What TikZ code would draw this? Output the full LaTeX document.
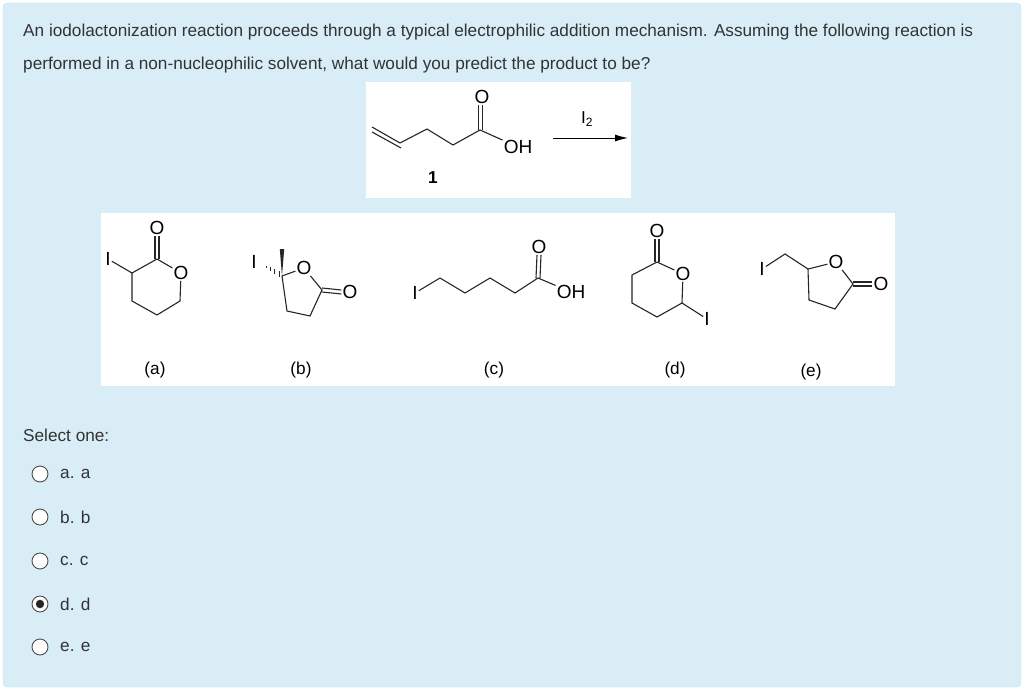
\documentclass[tikz,border=0pt]{standalone}
\usepackage{fontspec}
\setmainfont{Liberation Sans}
\usetikzlibrary{arrows.meta,calc}
\begin{document}
\begin{tikzpicture}[x=1pt,y=-1pt,
  txt/.style={anchor=west,inner sep=0pt,font=\fontsize{17.2}{20}\selectfont,text=black!80},
  atom/.style={inner sep=1pt,font=\fontsize{19}{20}\selectfont},
  bond/.style={line width=1.1pt,black!85},
  lbl/.style={font=\fontsize{17.2}{20}\selectfont},
  radio/.style={circle,draw=black!70,line width=0.9pt,minimum size=16pt,inner sep=0pt,fill=white}]
\useasboundingbox (0,0) rectangle (1024,690);
\fill[white] (0,0) rectangle (1024,690);
\draw[fill={rgb,255:red,217;green,237;blue,247},draw={rgb,255:red,188;green,232;blue,241},rounded corners=4pt] (3,3) rectangle (1021,687);
\node[txt] (q1) at (23,32) {An iodolactonization reaction proceeds through a typical electrophilic addition mechanism. Assuming the following reaction is};
\node[txt] (q2) at (23,65) {performed in a non-nucleophilic solvent, what would you predict the product to be?};
\fill[white] (366,82) rectangle (631,198);
\fill[white] (101,213) rectangle (895,386);
% reaction
\coordinate (r1) at (372,127); \coordinate (r2) at (400,143); \coordinate (r3) at (427,129);
\coordinate (r4) at (453,145); \coordinate (r5) at (480,130);
\node[atom] (rO) at (482,97) {O}; \node[atom] (rOH) at (518,147) {OH};
\draw[bond] (r1)--(r2)--(r3)--(r4)--(r5)--(rOH);
\draw[bond] ([yshift=-5]r1)--([xshift=1,yshift=-5]r2);
\draw[bond] ([xshift=-1.5]r5)--([xshift=-3.5]rO.south);
\draw[bond] ([xshift=2.5]r5)--([xshift=0.5]rO.south);
\coordinate (a1) at (553,138); \coordinate (a2) at (628,138);
\draw[line width=1pt,-{Latex[length=13pt,width=7pt]}] (a1)--(a2);
\node[lbl] (i2) at (587,119) {I\textsubscript{2}};
\node[font=\bfseries\fontsize{17.2}{20}\selectfont] (n1) at (433,178) {1};
% (a)
\coordinate (aC2) at (157,259); \coordinate (aC6) at (180,301); \coordinate (aC5) at (157,315);
\coordinate (aC4) at (132,301); \coordinate (aC3) at (132,273);
\node[atom] (aO) at (181,273) {O}; \node[atom] (aOt) at (157,228) {O}; \node[atom] (aI) at (108,259) {I};
\draw[bond] (aC2)--(aO)--(aC6)--(aC5)--(aC4)--(aC3)--(aC2); \draw[bond] (aC3)--(aI);
\draw[bond] ([xshift=-2]aC2)--([xshift=-2]aOt.south); \draw[bond] ([xshift=2]aC2)--([xshift=2]aOt.south);
% (b)
\coordinate (bC5) at (282,276); \coordinate (bC2) at (322,290); \coordinate (bC3) at (310,316);
\coordinate (bC4) at (287,311); \coordinate (bMe) at (282,249);
\node[atom] (bO) at (304,268) {O}; \node[atom] (bOe) at (350,292) {O}; \node[atom] (bI) at (254,262) {I};
\draw[bond] (bC5)--(bO)--(bC2)--(bC3)--(bC4)--(bC5);
\draw[bond] ([yshift=-2]bC2)--([yshift=-2]bOe.west); \draw[bond] ([yshift=2]bC2)--([yshift=2]bOe.west);
\fill[black!85] (bC5) -- ([xshift=-2.2]bMe) -- ([xshift=2.2]bMe) -- cycle;
\foreach \t in {0.12,0.3,0.48,0.66}{\draw[line width=1pt,black!85] ($(bC5)!\t!(bI.east)+(0,-{3.5*(1-\t)})$)--($(bC5)!\t!(bI.east)+(0,{3.5*(1-\t)})$);}
% (c)
\node[atom] (cI) at (415,293) {I};
\coordinate (c5) at (440,278); \coordinate (c4) at (465,293); \coordinate (c3) at (490,278);
\coordinate (c2) at (515,293); \coordinate (c1) at (538,278);
\node[atom] (cO) at (539,247) {O}; \node[atom] (cOH) at (571,292) {OH};
\draw[bond] (cI)--(c5)--(c4)--(c3)--(c2)--(c1)--(cOH);
\draw[bond] ([xshift=-2]c1)--([xshift=-2]cO.south); \draw[bond] ([xshift=2]c1)--([xshift=2]cO.south);
% (d)
\coordinate (dC2) at (657,262); \coordinate (dC6) at (682,303); \coordinate (dC5) at (657,317);
\coordinate (dC4) at (632,303); \coordinate (dC3) at (632,275);
\node[atom] (dO) at (683,274) {O}; \node[atom] (dOt) at (657,231) {O}; \node[atom] (dI) at (707,319) {I};
\draw[bond] (dC2)--(dO)--(dC6)--(dC5)--(dC4)--(dC3)--(dC2); \draw[bond] (dC6)--(dI);
\draw[bond] ([xshift=-2]dC2)--([xshift=-2]dOt.south); \draw[bond] ([xshift=2]dC2)--([xshift=2]dOt.south);
% (e)
\node[atom] (eI) at (762,269) {I};
\coordinate (eCH) at (785,254); \coordinate (eC5) at (808,269); \coordinate (eC2) at (853,284);
\coordinate (eC3) at (835,309); \coordinate (eC4) at (809,300);
\node[atom] (eO) at (836,262) {O}; \node[atom] (eOe) at (881,284) {O};
\draw[bond] (eI)--(eCH)--(eC5)--(eO)--(eC2)--(eC3)--(eC4)--(eC5);
\draw[bond] ([yshift=-2]eC2)--([yshift=-2]eOe.west); \draw[bond] ([yshift=2]eC2)--([yshift=2]eOe.west);
% labels
\node[lbl] (la) at (155,370) {(a)}; \node[lbl] (lb) at (301,370) {(b)};
\node[lbl] (lc) at (494,370) {(c)}; \node[lbl] (ld) at (675,370) {(d)};
\node[lbl] (le) at (811,372) {(e)};
% choices
\node[txt] (sel) at (23,435) {Select one:};
\foreach \y/\t/\n in {474/a. a/oa,517/b. b/ob,561/c. c/oc,604/d. d/od,647/e. e/oe}{
  \node[radio] (r\n) at (40,\y) {};
  \node[txt] (t\n) at (60,\y) {\t};}
\fill[black!85] (rod) circle (4.2pt);
\end{tikzpicture}
\end{document}
